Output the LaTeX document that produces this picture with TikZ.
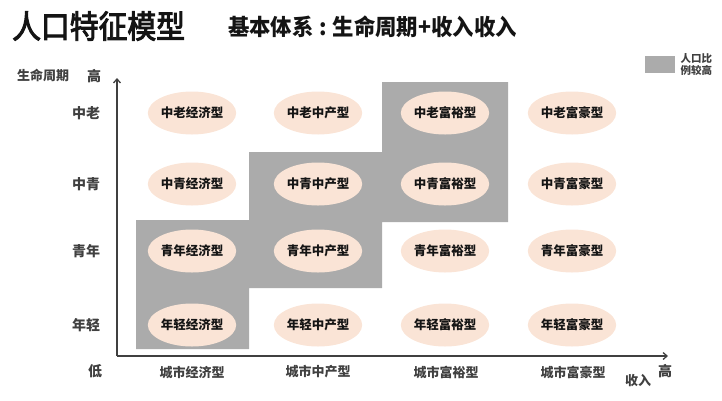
\documentclass[tikz,border=0pt]{standalone}
\usepackage{fontspec}
\newfontfamily\cjk{Noto Sans CJK SC}
\newfontfamily\cjktitle[FakeStretch=0.9,FakeBold=3]{Noto Sans CJK SC}
\newfontfamily\cjksub[FakeStretch=0.95]{Noto Sans CJK SC}
\usetikzlibrary{arrows.meta,shapes.geometric}
\definecolor{peach}{RGB}{250,228,214}
\definecolor{hi}{RGB}{171,171,171}
\definecolor{axtext}{RGB}{64,64,64}
\definecolor{axline}{RGB}{64,64,64}
\definecolor{ink}{RGB}{20,20,20}
\begin{document}
\begin{tikzpicture}[x=1pt,y=-1pt,
  cell/.style={ellipse, fill=peach, minimum width=84pt, minimum height=43pt, inner sep=0pt,
    font=\cjk\bfseries\fontsize{12.5}{14}\selectfont, text=ink},
  axlab/.style={font=\cjk\bfseries\fontsize{14}{16}\selectfont, text=axtext},
  collab/.style={font=\cjk\bfseries\fontsize{13}{15}\selectfont, text=axtext},
  axis/.style={draw=axline, line width=1.3pt, -{Straight Barb[length=4pt,width=7pt]}},
  legbox/.style={fill=hi, minimum width=30pt, minimum height=17pt, inner sep=0pt}]
\useasboundingbox (0,0) rectangle (722,400);
% highlighted staircase
\fill[hi] (136,220) -- (249,220) -- (249,152) -- (382,152) -- (382,82) -- (508,82)
  -- (508,222) -- (382,222) -- (382,288) -- (249,288) -- (249,349) -- (136,349) -- cycle;
% titles
\node[anchor=west, inner sep=0pt, font=\cjktitle\fontsize{32}{34}\selectfont, text=ink] (title) at (12,26) {人口特征模型};
\node[anchor=west, inner sep=0pt, font=\cjksub\bfseries\fontsize{22.5}{24}\selectfont, text=ink] (sub) at (228,27) {基本体系\makebox[0.85em]{:}生命周期+收入收入};
% legend
\node[legbox] (leg) at (660,64.5) {};
\node[anchor=west, align=left, font=\cjk\bfseries\fontsize{10.5}{12}\selectfont, text=axtext] (legt) at (677,64.5) {人口比\\例较高};
% axes
\coordinate (O) at (117,356);
\coordinate (ytop) at (117,78);
\coordinate (xend) at (668,356);
\draw[axis] (O) -- (ytop);
\draw[axis] (O) -- (xend);
\node[collab] (ylab) at (43,75) {生命周期};
\node[axlab] (yhi) at (94,76) {高};
\node[axlab] (lo) at (95,371) {低};
\node[collab] (xlab) at (638,381) {收入};
\node[axlab] (xhi) at (665,371) {高};
% row labels
\node[axlab] (r1) at (86,113) {中老};
\node[axlab] (r2) at (86,184) {中青};
\node[axlab] (r3) at (86,251) {青年};
\node[axlab] (r4) at (86,325) {年轻};
% column labels
\node[collab] (c1) at (192,372) {城市经济型};
\node[collab] (c2) at (318,372) {城市中产型};
\node[collab] (c3) at (446,372) {城市富裕型};
\node[collab] (c4) at (573,372) {城市富豪型};
% cells
\node[cell] (e11) at (192,113) {中老经济型};
\node[cell] (e12) at (318,113) {中老中产型};
\node[cell] (e13) at (445,113) {中老富裕型};
\node[cell] (e14) at (572,113) {中老富豪型};
\node[cell] (e21) at (192,184) {中青经济型};
\node[cell] (e22) at (318,184) {中青中产型};
\node[cell] (e23) at (445,184) {中青富裕型};
\node[cell] (e24) at (572,184) {中青富豪型};
\node[cell] (e31) at (192,251) {青年经济型};
\node[cell] (e32) at (318,251) {青年中产型};
\node[cell] (e33) at (445,251) {青年富裕型};
\node[cell] (e34) at (572,251) {青年富豪型};
\node[cell] (e41) at (192,325) {年轻经济型};
\node[cell] (e42) at (318,325) {年轻中产型};
\node[cell] (e43) at (445,325) {年轻富裕型};
\node[cell] (e44) at (572,325) {年轻富豪型};
\end{tikzpicture}
\end{document}
